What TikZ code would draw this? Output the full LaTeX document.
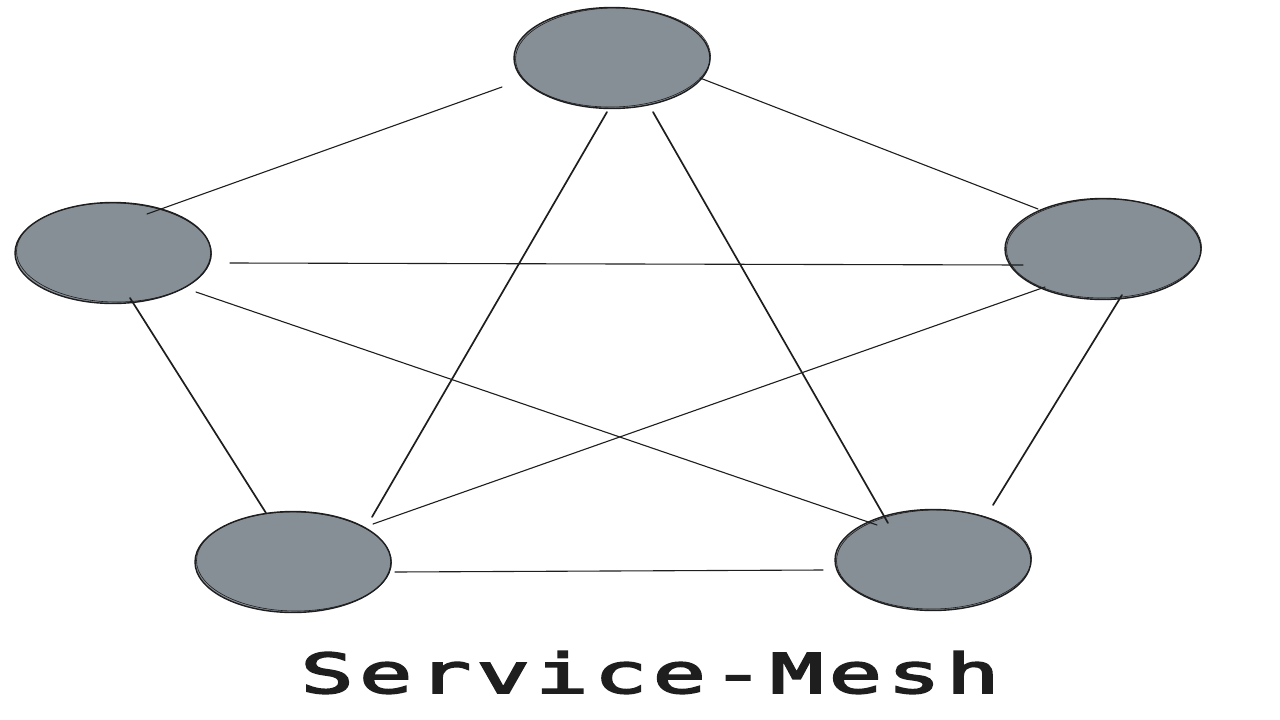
\documentclass[tikz,border=0pt]{standalone}
\usepackage{fontspec}
\usetikzlibrary{shapes.geometric}
\newfontfamily\meshtitle[LetterSpace=6.5,FakeBold=3]{DejaVu Sans Mono}
\definecolor{svcfill}{HTML}{868E96}
\definecolor{ink}{HTML}{1E1E1E}
\tikzset{
  svc/.style={ellipse, draw=ink, line width=1.4pt, fill=svcfill, minimum width=196pt, minimum height=101pt, inner sep=0pt},
  sketch/.style={draw=ink, line width=0.6pt},
  link/.style={draw=ink, line width=1.1pt, line cap=round},
  thicklink/.style={draw=ink, line width=1.7pt, line cap=round},
}
\begin{document}
\begin{tikzpicture}[x=1pt,y=-1pt]
\useasboundingbox[fill=white] (0,0) rectangle (1280,720);
% services
\node[svc] (T)  at (612,58)  {};
\node[svc] (L)  at (113,253) {};
\node[svc] (R)  at (1103,249) {};
\node[svc] (BL) at (293,562) {};
\node[svc] (BR) at (933,560) {};
% sketchy second strokes
\foreach \n/\r in {T/1.2,L/-1,R/0.8,BL/-0.7,BR/1}{
  \draw[sketch] ([shift={(1,-0.5)}]\n.center) ellipse [x radius=97.5, y radius=49.5, rotate=\r];
}
% connectors
\draw[link] ([shift={(-110,29)}]T.center) -- ([shift={(34,-39)}]L.center);
\draw[link] ([shift={(88,20)}]T.center) -- ([shift={(-65,-40)}]R.center);
\draw[thicklink] ([shift={(-5,54)}]T.center) -- ([shift={(79,-45)}]BL.center);
\draw[thicklink] ([shift={(41,54)}]T.center) -- ([shift={(-45,-37)}]BR.center);
\draw[link] ([shift={(117,10)}]L.center) -- ([shift={(-80,16)}]R.center);
\draw[thicklink] ([shift={(17,45)}]L.center) -- ([shift={(-27,-49)}]BL.center);
\draw[link] ([shift={(83,39)}]L.center) -- ([shift={(-56,-35)}]BR.center);
\draw[link] ([shift={(-58,38)}]R.center) -- ([shift={(80,-38)}]BL.center);
\draw[thicklink] ([shift={(19,46)}]R.center) -- ([shift={(60,-55)}]BR.center);
\draw[link] ([shift={(102,10)}]BL.center) -- ([shift={(-110,10)}]BR.center);
% title
\node[anchor=base, inner sep=0pt, text=ink, font=\meshtitle\fontsize{55}{57}\selectfont] (title) at (650,693) {\scalebox{1.6}[1]{Service-Mesh}};
\end{tikzpicture}
\end{document}
